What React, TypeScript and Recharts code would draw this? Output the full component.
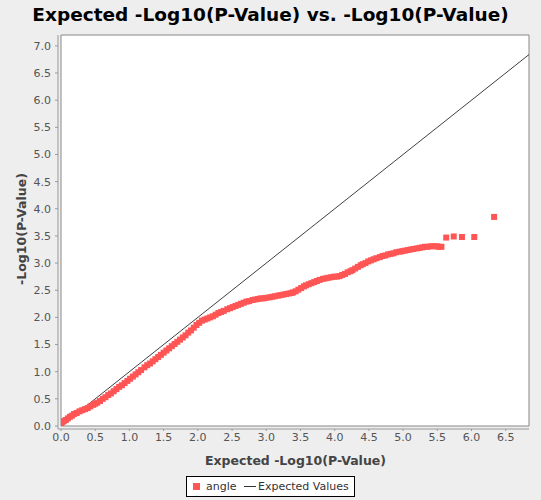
import React from 'react';
import { ScatterChart, Scatter, XAxis, YAxis, ReferenceArea } from 'recharts';

const angleX = [
  0.0, 0.02, 0.04, 0.07, 0.1, 0.13, 0.16, 0.19, 0.23, 0.27, 0.31, 0.35, 0.39, 0.43, 0.47, 0.5,
  0.53, 0.57, 0.61, 0.65, 0.69, 0.73, 0.77, 0.81, 0.85, 0.89, 0.93, 0.97, 1.01, 1.05, 1.09, 1.13,
  1.17, 1.22, 1.26, 1.3, 1.34, 1.38, 1.42, 1.46, 1.5, 1.54, 1.58, 1.62, 1.66, 1.7, 1.74, 1.78,
  1.82, 1.86, 1.9, 1.94, 1.98, 2.02, 2.06, 2.1, 2.14, 2.18, 2.22, 2.26, 2.3, 2.34, 2.38, 2.43,
  2.47, 2.51, 2.55, 2.59, 2.63, 2.67, 2.71, 2.75, 2.8, 2.84, 2.88, 2.92, 2.96, 3.0, 3.05, 3.09,
  3.13, 3.17, 3.21, 3.25, 3.29, 3.33, 3.37, 3.39, 3.43, 3.47, 3.51, 3.55, 3.58, 3.62, 3.66, 3.7,
  3.74, 3.78, 3.83, 3.87, 3.91, 3.95, 3.99, 4.03, 4.07, 4.11, 4.15, 4.19, 4.23, 4.26, 4.3, 4.34,
  4.38, 4.41, 4.45, 4.49, 4.53, 4.57, 4.61, 4.66, 4.7, 4.74, 4.78, 4.82, 4.86, 4.9, 4.95, 4.99,
  5.03, 5.07, 5.11, 5.15, 5.2, 5.24, 5.28, 5.32, 5.36, 5.41, 5.45, 5.49, 5.52, 5.56,
  5.63, 5.74, 5.86, 6.04, 6.33,
];
const angleY = [
  0.05, 0.07, 0.09, 0.11, 0.14, 0.17, 0.19, 0.22, 0.24, 0.27, 0.29, 0.31, 0.33, 0.36, 0.39, 0.41,
  0.43, 0.46, 0.5, 0.53, 0.57, 0.6, 0.64, 0.68, 0.72, 0.75, 0.79, 0.83, 0.87, 0.91, 0.95, 0.99,
  1.03, 1.08, 1.12, 1.15, 1.19, 1.23, 1.27, 1.31, 1.35, 1.39, 1.43, 1.47, 1.51, 1.55, 1.59, 1.63,
  1.67, 1.72, 1.76, 1.81, 1.86, 1.9, 1.94, 1.96, 1.98, 2.0, 2.02, 2.05, 2.08, 2.1, 2.12, 2.15,
  2.17, 2.19, 2.21, 2.23, 2.25, 2.27, 2.29, 2.3, 2.32, 2.33, 2.34, 2.35, 2.35, 2.36, 2.37, 2.38,
  2.39, 2.4, 2.41, 2.42, 2.43, 2.44, 2.45, 2.46, 2.48, 2.51, 2.54, 2.57, 2.59, 2.61, 2.63, 2.65,
  2.67, 2.69, 2.71, 2.72, 2.73, 2.74, 2.75, 2.75, 2.76, 2.78, 2.8, 2.83, 2.85, 2.87, 2.9, 2.93,
  2.96, 2.98, 3.0, 3.03, 3.05, 3.07, 3.09, 3.11, 3.13, 3.14, 3.16, 3.17, 3.18, 3.2, 3.21, 3.22,
  3.23, 3.24, 3.25, 3.26, 3.27, 3.28, 3.29, 3.3, 3.3, 3.31, 3.31, 3.31, 3.3, 3.3,
  3.47, 3.49, 3.48, 3.48, 3.85,
];
const expectedX = [0, 6.84];
const expectedY = [0, 6.84];
const xTicks = [0, 0.5, 1, 1.5, 2, 2.5, 3, 3.5, 4, 4.5, 5, 5.5, 6, 6.5];
const yTicks = [0, 0.5, 1, 1.5, 2, 2.5, 3, 3.5, 4, 4.5, 5, 5.5, 6, 6.5, 7];
const xDomain = [0, 6.84];
const yDomain = [0, 7.2];

const angleData = angleX.map((x, i) => ({ x, y: angleY[i] }));
const expectedData = expectedX.map((x, i) => ({ x, y: expectedY[i] }));

const FONT = '"DejaVu Sans", Verdana, sans-serif';
const RED = '#ff5555';

const Square = (props: any) => {
  const { cx, cy } = props;
  if (cx == null || cy == null) return <g />;
  return <rect x={cx - 3} y={cy - 3} width={6} height={6} fill={RED} />;
};

const XLabel = (props: any) => {
  const vb = props.viewBox || { x: 58, width: 471 };
  return (
    <text
      x={vb.x + vb.width / 2 + 2}
      y={465}
      textAnchor="middle"
      fontFamily={FONT}
      fontWeight="bold"
      fontSize={12.5}
      fill="#444"
    >
      Expected -Log10(P-Value)
    </text>
  );
};

const YLabel = () => (
  <text
    x={26}
    y={229}
    transform="rotate(-90 26 229)"
    textAnchor="middle"
    fontFamily={FONT}
    fontWeight="bold"
    fontSize={12.5}
    fill="#444"
  >
    -Log10(P-Value)
  </text>
);

const fmt = (v: number) => v.toFixed(1);

export default function App() {
  return (
    <div
      style={{
        position: 'absolute',
        left: 0,
        top: 0,
        width: 541,
        height: 500,
        background: '#eeeeee',
        fontFamily: FONT,
        overflow: 'hidden',
      }}
    >
      <div
        style={{
          position: 'absolute',
          top: 4,
          left: 0,
          width: 541,
          textAlign: 'center',
          fontWeight: 'bold',
          fontSize: 18.5,
          lineHeight: '22px',
          color: '#000',
          fontFamily: FONT,
        }}
      >
        Expected -Log10(P-Value) vs. -Log10(P-Value)
      </div>
      <ScatterChart
        width={541}
        height={500}
        margin={{ top: 35, right: 12, bottom: 0, left: 0 }}
        style={{ position: 'absolute', left: 0, top: 0 }}
      >
        <XAxis
          type="number"
          dataKey="x"
          domain={xDomain}
          ticks={xTicks}
          tickFormatter={fmt}
          allowDataOverflow
          padding={{ left: 3, right: 0 }}
          height={71}
          tickSize={2}
          tickMargin={2}
          stroke="#999"
          tick={{ fill: '#555', fontSize: 11, fontFamily: FONT }}
          label={<XLabel />}
        />
        <YAxis
          type="number"
          dataKey="y"
          domain={yDomain}
          ticks={yTicks}
          tickFormatter={fmt}
          allowDataOverflow
          padding={{ top: 0, bottom: 3 }}
          width={58}
          tickSize={3}
          tickMargin={4}
          stroke="#999"
          tick={{ fill: '#555', fontSize: 11, fontFamily: FONT }}
          label={<YLabel />}
        />
        <ReferenceArea
          x1={xDomain[0]}
          x2={xDomain[1]}
          y1={yDomain[0]}
          y2={yDomain[1]}
          fill="#ffffff"
          fillOpacity={1}
          stroke="#888888"
          strokeWidth={1}
        />
        <Scatter
          name="Expected Values"
          data={expectedData}
          line={{ stroke: '#404040', strokeWidth: 1 }}
          shape={() => <g />}
          isAnimationActive={false}
        />
        <Scatter name="angle" data={angleData} shape={<Square />} isAnimationActive={false} />
      </ScatterChart>
      <div
        style={{
          position: 'absolute',
          left: 186,
          top: 476,
          width: 167,
          height: 19,
          border: '1px solid #000',
          background: '#ffffff',
          fontFamily: FONT,
          fontSize: 11,
          color: '#333',
        }}
      >
        <div style={{ position: 'absolute', left: 6, top: 6, width: 7, height: 7, background: RED }} />
        <div style={{ position: 'absolute', left: 19, top: 1, lineHeight: '17px' }}>angle</div>
        <div style={{ position: 'absolute', left: 57, top: 9, width: 12, height: 1, background: '#333' }} />
        <div style={{ position: 'absolute', left: 71, top: 1, lineHeight: '17px' }}>Expected Values</div>
      </div>
    </div>
  );
}
